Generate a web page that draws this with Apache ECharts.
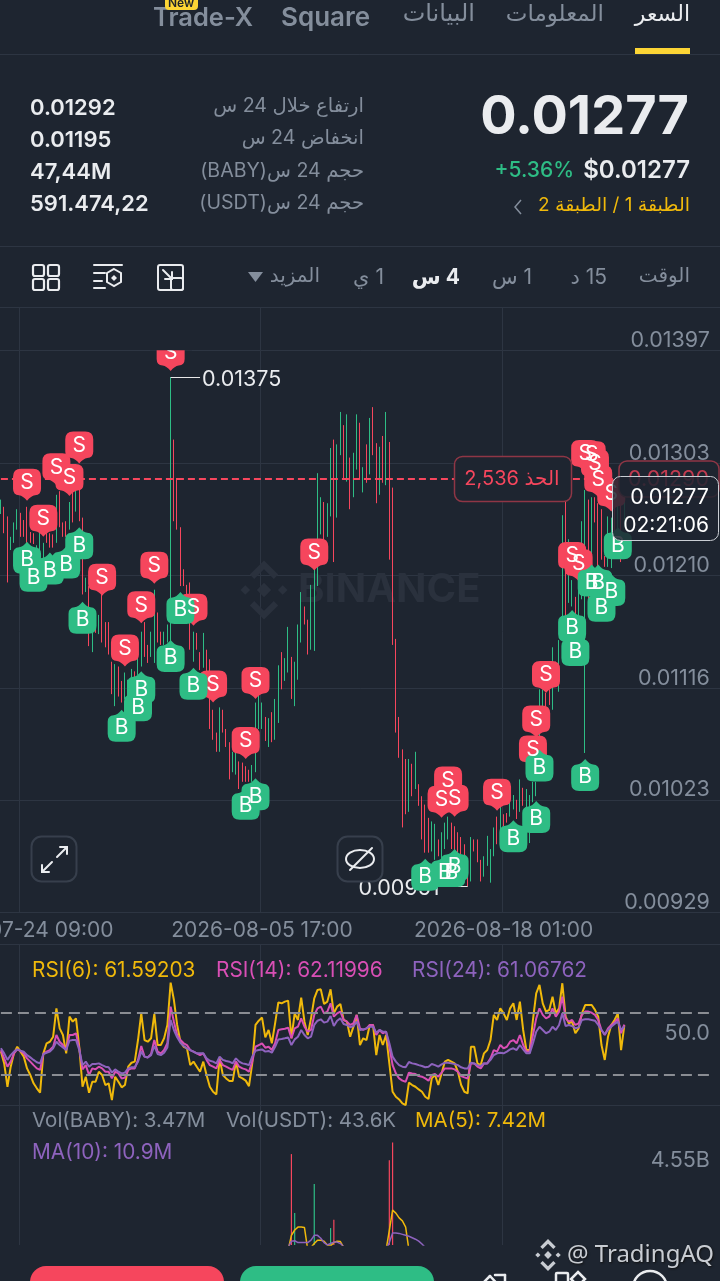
<!DOCTYPE html>
<html><head><meta charset="utf-8">
<style>html,body{margin:0;padding:0;background:#1E2530;}#c{width:720px;height:1281px;}</style>
<script src="https://cdn.jsdelivr.net/npm/echarts@6/dist/echarts.min.js"></script>
</head><body><div id="c"></div>
<script>
// prices in units of 0.00001
const candleOpen=[1264,1263,1252,1233,1240,1251,1258,1253,1260,1244,1243,1226,1235,1227,1250,1243,1241,1242,1275,1252,1252,1252,1270,1266,1282,1255,1198,1195,1155,1171,1164,1180,1168,1165,1132,1110,1130,1118,1110,1110,1125,1127,1130,1138,1165,1150,1145,1142,1172,1160,1154,1156,1306,1310,1270,1245,1212,1200,1195,1143,1160,1144,1136,1145,1130,1094,1077,1066,1095,1080,1068,1048,1047,1052,1050,1048,1046,1040,1050,1086,1085,1090,1072,1092,1078,1095,1140,1125,1135,1136,1108,1130,1160,1181,1170,1152,1155,1210,1248,1266,1245,1265,1310,1262,1315,1330,1292,1302,1280,1303,1330,1282,1312,1298,1340,1312,1282,1318,1295,1310,1270,1154,1088,1060,1040,1020,1048,1036,1034,1022,1012,1004,984,978,987,976,985,993,1002,997,992,988,982,968,960,988,986,972,962,972,960,980,1005,994,1009,1010,1011,1017,1020,1017,1030,1018,995,1024,1028,1050,1095,1110,1112,1104,1120,1118,1160,1260,1190,1188,1190,1178,1195,1200,1265,1205,1272,1262,1258,1225,1222,1220,1262,1240,1275,1262];
const candleClose=[1271,1250,1225,1240,1250,1262,1246,1246,1243,1239,1238,1233,1245,1234,1240,1235,1235,1268,1255,1245,1245,1265,1258,1278,1260,1215,1206,1160,1170,1164,1174,1160,1155,1150,1118,1130,1115,1108,1124,1120,1130,1118,1139,1158,1147,1140,1158,1175,1158,1155,1161,1166,1372,1262,1252,1210,1204,1188,1160,1158,1152,1134,1155,1132,1092,1078,1067,1092,1083,1071,1048,1060,1058,1037,1041,1041,1040,1049,1095,1105,1100,1076,1087,1075,1102,1128,1120,1138,1160,1112,1132,1162,1190,1172,1150,1195,1210,1280,1270,1245,1265,1305,1230,1310,1338,1297,1335,1270,1305,1335,1296,1296,1292,1332,1315,1278,1310,1295,1330,1235,1165,1090,1065,1010,1020,1050,1030,1055,1022,996,985,985,1000,995,980,990,998,1005,987,982,982,977,970,955,985,983,975,960,973,988,978,996,990,1012,1003,1006,1020,1024,1010,1035,1021,1029,1020,1034,1035,1105,1110,1103,1105,1140,1134,1150,1240,1190,1230,1202,1172,1215,1245,1270,1200,1265,1258,1200,1230,1220,1250,1250,1240,1268,1260,1277];
const candleLow=[1261,1245,1204,1231,1237,1248,1242,1242,1237,1237,1236,1223,1231,1223,1237,1233,1233,1237,1250,1242,1242,1248,1254,1263,1255,1194,1196,1151,1146,1162,1161,1154,1150,1144,1111,1101,1109,1104,1107,1107,1123,1115,1127,1134,1142,1137,1142,1137,1154,1152,1152,1154,1148,1255,1248,1201,1201,1181,1148,1138,1148,1131,1133,1127,1082,1073,1063,1063,1079,1067,1040,1046,1044,1032,1038,1038,1038,1038,1046,1082,1082,1072,1067,1071,1073,1087,1115,1122,1129,1107,1101,1123,1154,1169,1144,1148,1147,1201,1244,1240,1242,1259,1221,1258,1310,1290,1288,1265,1275,1298,1290,1279,1287,1294,1310,1270,1277,1287,1285,1223,1152,1079,1058,1000,1011,1013,1026,1032,1018,990,979,979,980,973,976,972,982,990,982,978,979,973,965,951,955,980,971,955,959,968,954,976,986,990,1001,1004,1009,1015,1007,1013,1018,1015,987,1021,1026,1045,1090,1101,1102,1098,1117,1113,1156,1173,1187,1184,1165,1173,1190,1062,1190,1198,1254,1190,1223,1217,1217,1216,1235,1235,1221,1250];
const candleHigh=[1273,1267,1259,1242,1254,1265,1262,1256,1267,1246,1245,1235,1248,1237,1259,1245,1244,1277,1280,1254,1255,1271,1285,1281,1288,1258,1208,1201,1177,1173,1177,1198,1171,1171,1138,1136,1134,1122,1129,1123,1132,1130,1142,1163,1171,1152,1163,1198,1179,1163,1163,1169,1375,1323,1291,1250,1215,1202,1204,1163,1162,1146,1162,1148,1140,1098,1079,1100,1098,1082,1071,1063,1062,1055,1054,1051,1048,1052,1104,1111,1104,1092,1091,1096,1107,1135,1146,1141,1167,1142,1138,1169,1196,1184,1173,1202,1219,1295,1275,1271,1270,1316,1323,1319,1346,1335,1344,1308,1312,1344,1337,1300,1319,1341,1350,1320,1317,1326,1346,1321,1283,1157,1092,1065,1057,1057,1053,1063,1036,1026,1019,1008,1005,1003,990,996,1004,1009,1004,1001,996,992,986,965,992,990,990,973,976,993,982,1000,1009,1017,1011,1012,1023,1027,1023,1040,1033,1032,1027,1038,1038,1115,1115,1112,1115,1150,1138,1156,1260,1273,1240,1206,1192,1223,1255,1281,1273,1275,1275,1270,1265,1226,1259,1258,1273,1277,1282,1285];
const sellIndex=[8,17,21,24,13,31,47,43,59,52,96,38,65,78,75,137,135,139,152,163,164,167,175,177,179,181,182,183,187];
const sellPrice=[1272,1285,1276,1303,1242,1193,1203,1170,1168,1380,1214,1134,1104,1107,1057,1024,1008,1009,1014,1050,1075,1112,1211,1205,1296,1295,1288,1275,1263];
const buyIndex=[8,10,15,20,24,25,55,52,43,42,37,59,78,75,130,136,139,138,157,164,165,179,176,175,184,181,183,187,189];
const buyPrice=[1238,1223,1229,1234,1250,1188,1196,1156,1130,1115,1098,1133,1041,1033,974,977,982,977,1006,1022,1065,1057,1161,1181,1198,1219,1219,1211,1250];
const rsi6=[44.9,37.4,22.5,35.3,43.8,48.0,44.9,41.7,34.2,30.0,24.7,21.5,18.7,43.8,50.2,51.2,54.4,72.5,59.7,55.5,43.8,67.2,64.0,66.1,48.0,22.5,28.9,18.7,25.7,25.7,32.1,30.0,23.6,24.7,14.0,28.9,25.7,22.1,23.6,35.3,37.8,38.5,52.3,69.3,52.3,51.2,53.4,68.9,49.1,49.1,53.4,61.9,88.9,77.8,61.9,51.2,48.0,47.0,36.3,38.5,35.3,32.1,38.5,30.0,22.5,19.3,17.6,40.6,30.0,27.8,26.1,26.1,38.5,28.9,27.8,26.4,22.9,37.4,61.9,64.6,66.6,54.0,58.7,50.2,62.9,76.3,75.7,76.8,77.4,53.4,69.3,65.1,79.3,64.0,55.5,66.1,78.9,84.2,84.6,75.3,76.8,84.6,69.3,73.6,75.3,65.1,64.0,54.4,60.8,68.3,49.1,
53.4,52.3,61.9,61.9,42.7,55.5,49.1,55.5,37.4,19.3,16.1,14.4,11.9,10.8,25.1,23.6,22.5,20.8,19.3,16.1,14.7,27.8,30.0,23.6,31.0,38.5,39.6,38.5,37.4,32.1,23.6,19.3,18.3,48.0,48.0,37.4,36.3,43.8,45.9,52.3,68.3,65.1,72.5,69.3,65.1,72.5,75.7,65.1,76.8,58.7,45.9,45.9,65.1,82.1,87.4,75.7,70.4,71.5,79.9,69.3,72.5,88.5,67.2,62.9,64.0,56.6,59.7,69.3,74.6,74.6,74.6,71.5,67.2,49.1,39.6,54.4,61.9,65.1,69.3,45.9,61.59];
const rsi14=[45.9,40.6,35.3,38.5,43.8,46.3,45.3,43.8,40.6,38.5,36.3,34.2,33.2,43.4,44.9,45.9,48.0,55.5,51.2,49.1,45.9,55.5,55.5,56.6,47.0,33.6,36.3,30.0,34.2,33.6,35.3,34.2,32.1,32.1,27.8,32.1,31.0,27.8,28.3,33.2,34.2,34.2,39.6,48.5,41.7,41.2,43.4,52.3,44.9,43.8,45.9,50.2,73.6,64.0,55.5,52.3,50.2,49.1,45.9,44.9,43.8,42.7,43.8,39.6,36.3,35.3,34.2,39.6,36.3,35.3,34.2,33.2,38.5,35.3,34.2,33.6,32.1,38.5,48.0,49.1,50.2,47.4,48.0,45.9,50.2,58.7,59.1,59.5,60.2,53.4,59.7,60.8,66.1,60.8,57.6,58.7,68.3,72.5,73.6,69.3,70.4,75.7,67.2,69.3,70.4,65.1,64.0,61.9,62.9,68.3,59.7,
58.7,59.7,61.9,61.9,55.5,58.7,56.6,57.6,48.0,36.3,31.0,27.8,26.4,25.7,31.5,31.0,30.6,29.3,28.9,27.8,26.4,30.0,30.6,28.9,31.5,34.2,34.2,34.2,33.6,32.1,29.3,28.5,27.8,37.4,37.4,35.3,34.2,37.4,37.4,40.6,45.9,44.9,49.1,47.0,48.0,51.2,52.3,50.2,55.5,49.1,44.9,44.9,55.5,66.1,72.5,68.3,66.1,67.2,72.5,67.2,70.4,79.9,66.1,64.0,65.1,61.9,62.9,68.3,70.4,70.4,69.7,68.3,65.1,58.7,55.5,59.7,61.9,63.4,66.1,56.6,62.12];
const rsi24=[47.0,43.8,39.6,42.7,44.9,46.3,45.5,44.9,42.7,41.2,39.6,38.1,37.4,43.4,44.2,44.9,47.0,51.2,49.1,47.6,45.9,51.9,52.3,52.3,45.9,36.3,38.5,35.3,37.0,37.0,37.4,36.3,35.3,34.9,31.5,33.6,32.1,31.0,31.5,34.2,34.9,34.9,38.5,44.9,41.7,41.2,42.7,48.5,43.4,42.7,44.2,47.6,65.1,58.7,54.0,50.6,48.5,47.0,45.9,44.9,43.8,43.8,43.8,40.6,39.1,38.5,37.4,41.7,39.6,38.9,38.5,37.4,40.6,38.5,37.4,37.0,36.3,41.7,45.5,45.9,46.3,44.9,45.3,44.2,48.0,52.7,52.9,53.4,54.0,49.1,52.7,54.4,58.7,55.5,53.4,54.4,61.9,64.6,65.5,63.4,64.0,67.6,61.2,64.6,66.1,62.5,61.9,60.4,61.2,64.0,58.7,
59.1,59.7,60.8,60.8,57.0,58.7,57.6,57.6,50.2,41.7,38.5,36.3,35.3,34.9,38.3,37.4,37.0,36.3,35.7,34.9,35.3,37.0,36.3,35.3,36.8,37.8,37.8,37.4,37.0,36.3,34.9,34.2,34.2,37.8,37.4,36.3,35.7,37.4,37.4,39.6,42.7,43.8,44.2,43.8,44.9,46.3,47.0,45.9,49.1,46.3,43.8,43.8,50.2,57.6,60.8,58.7,56.6,57.6,60.8,58.7,61.9,69.3,61.2,61.9,61.2,59.7,60.4,65.1,65.5,65.5,65.1,64.6,61.9,58.7,55.9,58.7,60.8,62.5,64.0,58.7,61.07];
const volIndex=[89,90,96,101,102,119,120];
const volValues=[4.88e9,3.66e9,4.26e9,3.35e9,3.52e9,4.75e9,5.12e9];
const volIsUp=[false,true,true,true,false,false,false];
const ma5Index=[88,89,90,91,92,93,94,95,96,97,98,99,100,101,102,103,104,105,117,118,119,120,121,122,123,124,125];
const ma5Values=[2.9e9,3.2e9,3.31e9,3.37e9,3.37e9,3.36e9,2.9e9,2.95e9,3.03e9,3.1e9,3.1e9,3.08e9,3.0e9,2.98e9,3.05e9,3.08e9,3.07e9,2.95e9,2.7e9,2.9e9,3.3e9,3.72e9,3.66e9,3.56e9,3.5e9,3.37e9,2.9e9];
const ma10Index=[88,89,90,91,92,93,94,95,96,97,98,99,100,101,102,103,104,105,118,119,120,121,122,123,124,125,126,127,128,129,130];
const ma10Values=[2.95e9,3.08e9,3.09e9,3.05e9,3.05e9,3.05e9,3.05e9,3.1e9,3.2e9,3.2e9,3.14e9,3.05e9,3.0e9,3.03e9,3.06e9,3.06e9,3.03e9,2.97e9,2.9e9,3.05e9,3.25e9,3.25e9,3.24e9,3.22e9,3.2e9,3.18e9,3.15e9,3.12e9,3.08e9,3.02e9,2.95e9];
const priceTicks=[0.01397,0.01303,0.0121,0.01116,0.01023,0.00929];
const rsiTicks=[50];
const volTicks=[4.55e9];
const timeStart=Date.UTC(2026,6,23,9);
const slotCount=222;
const highPrice=0.01375, lowPrice=0.00951, alertPrice=0.0129;

const pad=n=>String(n).padStart(2,'0');
const categories=Array.from({length:slotCount},(_,i)=>{const d=new Date(timeStart+i*4*3600e3);
  return d.getUTCFullYear()+'-'+pad(d.getUTCMonth()+1)+'-'+pad(d.getUTCDate())+' '+pad(d.getUTCHours())+':00';});
const FONT="Inter, 'Noto Sans', 'DejaVu Sans', sans-serif";
const UP='#2EBD85',DOWN='#F6465D',BG='#1E2530',GRID='#2D3542',GRAY='#848E9C',YEL='#F0B90B',PINK='#D94FB5',PUR='#8E63BE',WHITE='#EAECEF';
const showGrid=i=>i%74===6;
const X=(g,extra)=>Object.assign({type:'category',gridIndex:g,data:categories,boundaryGap:true,
  axisTick:{show:false,alignWithLabel:true,interval:showGrid},axisLabel:{show:false},axisLine:{show:false},
  splitLine:{show:true,interval:showGrid,lineStyle:{color:GRID,width:1}}},extra||{});
const Y=(g,min,max,ticks,fmt)=>({type:'value',gridIndex:g,position:'right',min,max,scale:true,
  axisLine:{show:false},axisTick:{show:false,customValues:ticks},
  axisLabel:{show:ticks.length>0,inside:true,margin:14,customValues:ticks,formatter:fmt,color:GRAY,fontSize:21.5,fontFamily:FONT,verticalAlign:'bottom',align:'right',lineHeight:20,showMinLabel:true,showMaxLabel:true},
  splitLine:{show:g===0,lineStyle:{color:GRID,width:1}}});
const SPATH='path://M8,0 L20,0 Q28,0 28,8 L28,20 Q28,26 22,26.5 Q18,27 14,32 Q10,27 6,26.5 Q0,26 0,20 L0,8 Q0,0 8,0 Z';
const BPATH='path://M14,0 Q18,5 22,5.5 Q28,6 28,12 L28,24 Q28,32 20,32 L8,32 Q0,32 0,24 L0,12 Q0,6 6,5.5 Q10,5 14,0 Z';
const marker=(name,idx,vals,path,color,off,loff)=>({type:'scatter',name,xAxisIndex:0,yAxisIndex:0,z:5,
  data:idx.map((x,k)=>[x,vals[k]/1e5]),symbol:path,symbolSize:[28,32],symbolOffset:[0,off],silent:true,
  itemStyle:{color,opacity:1},label:{show:true,position:'inside',formatter:name,color:'#fff',fontSize:21,fontFamily:FONT,offset:[0,loff]}});
const pair=(idx,vals)=>idx.map((x,k)=>[x,vals[k]]);

const txt=(text,x,y,size,fill,align,weight,z)=>({type:'text',z:z||100,silent:true,style:{text,x,y,fontSize:size,fontFamily:FONT,fontWeight:weight||400,fill,textAlign:align||'left',textVerticalAlign:'middle'}});
const rect=(x,y,w,h,r,fill,stroke,lw,z)=>({type:'rect',z:z||100,silent:true,shape:{x,y,width:w,height:h,r},style:{fill:fill||'none',stroke:stroke||'none',lineWidth:lw||0}});
const line=(x1,y1,x2,y2,c,w,z)=>({type:'line',z:z||100,silent:true,shape:{x1,y1,x2,y2},style:{stroke:c,lineWidth:w||1,lineCap:'round'}});
const dia=(cx,cy,r,c,z)=>({type:'polygon',z:z||100,silent:true,shape:{points:[[cx,cy-r],[cx+r,cy],[cx,cy+r],[cx-r,cy]]},style:{fill:c}});
const chevron=(cx,cy,r,dir,c,w,z)=>({type:'polyline',z:z||100,silent:true,shape:{points:[[cx-r,cy+dir*0],[cx,cy-dir*r],[cx+r,cy]]},style:{stroke:c,lineWidth:w,fill:'none'}});
const logo=(cx,cy,s,c,z)=>[dia(cx,cy,s*.3,c,z),dia(cx-s*.78,cy,s*.2,c,z),dia(cx+s*.78,cy,s*.2,c,z),
  chevron(cx,cy-s*.55,s*.5,1,c,s*.26,z),chevron(cx,cy+s*.55,s*.5,-1,c,s*.26,z)];
const RL=s=>'\u202B'+s+'\u202C';

const graphics=[
 // tabs
 txt('Trade-X',153,18,25.5,GRAY,'left',600),txt('Square',281,18,26,GRAY,'left',600),
 txt(RL('البيانات'),475,14,24,GRAY,'right'),txt(RL('المعلومات'),604,14,23,GRAY,'right'),txt(RL('السعر'),690,14,22,WHITE,'right'),
 rect(165,-6,33,16,4,'#FCD535'),txt('New',181,3,12,'#1E2329','center',600),
 rect(635,48,55,6,0,'#FCD535'),
 line(0,54.5,720,54.5,GRID),line(0,246.5,720,246.5,GRID),line(0,307.5,720,307.5,GRID),
 // stats
 txt('0.01292',30,108,22,WHITE,'left',600),txt('0.01195',30,140,22,WHITE,'left',600),txt('47,44M',30,172,22,WHITE,'left',600),txt('591.474,22',30,204,22,WHITE,'left',600),
 txt(RL('ارتفاع خلال 24 س'),364,106,19.6,GRAY,'right'),txt(RL('انخفاض 24 س'),364,138,19.6,GRAY,'right'),
 txt(RL('حجم 24 س(BABY)'),364,171,19.6,GRAY,'right'),txt(RL('حجم 24 س(USDT)'),364,203,19.6,GRAY,'right'),
 txt('0.01277',689,118,54,WHITE,'right',700),
 txt('$0.01277',690,171,24,WHITE,'right',600),txt('+5.36%',574,171,21,UP,'right',500),
 txt(RL('الطبقة 1 / الطبقة 2'),690,205,19,YEL,'right'),
 {type:'polyline',z:100,silent:true,shape:{points:[[521,200],[515,207],[521,214]]},style:{stroke:GRAY,lineWidth:1.5,fill:'none'}},
 // interval row
 txt(RL('الوقت'),690,276,20,GRAY,'right'),txt(RL('15 د'),607,278,21,GRAY,'right'),txt(RL('1 س'),532,278,21,GRAY,'right'),
 txt(RL('4 س'),460,278,21,WHITE,'right',700),txt(RL('1 ي'),384,278,21,GRAY,'right'),txt(RL('المزيد'),320,276,20,GRAY,'right'),
 {type:'polygon',z:100,silent:true,shape:{points:[[248,272],[263,272],[255.5,282]]},style:{fill:GRAY}},
 rect(33,265,11,11,2,null,WHITE,2.2),rect(48,265,11,11,2,null,WHITE,2.2),rect(33,279,11,11,2,null,WHITE,2.2),rect(48,279,11,11,2,null,WHITE,2.2),
 line(94,265,122,265,WHITE,2),line(94,273,105,273,WHITE,2),line(94,281,102,281,WHITE,2),line(94,288,105,288,WHITE,2),
 {type:'polygon',z:100,silent:true,shape:{points:[[114,269],[121,273],[121,282],[114,286],[107,282],[107,273]]},style:{stroke:WHITE,lineWidth:2,fill:'none'}},
 dia(114,278,3,WHITE),
 rect(158,265,25,25,2,null,WHITE,2),rect(171,278,12,12,2,BG,WHITE,2),line(163,270,172,279,WHITE,2),line(172,272,172,279,WHITE,2),line(165,279,172,279,WHITE,2),
 // watermark
 ...logo(264,590,24,'#2A313D',1),
 txt('BINANCE',298,590,40,'#2A313D','left',700,1),
 // top edge of the plot cuts off the highest marker
 rect(150,309,42,41.2,0,BG,null,0,50),
 // boxes
 rect(454.5,456.5,117,45,8,BG,'#8F3645',1.5),txt(RL('الحذ 2,536'),512,479,20,DOWN,'center'),
 rect(619,461,100,36,8,BG,'#8F3645',1.5,101),txt('0.01290',709,480,21.5,'#C23B50','right',400,102),
 rect(612.5,476.5,106,64,8,'rgba(30,37,48,0.85)','#C9CDD3',1,103),txt('0.01277',709,498,21.5,'#FFFFFF','right',400,104),txt('02:21:06',709,526,21,'#FFFFFF','right',400,104),
 // buttons
 rect(31.5,836.5,45,45,10,BG,'#373F4C',2),line(42,872,52,862,WHITE,2),line(42,872,42,865,WHITE,2),line(42,872,49,872,WHITE,2),line(57,857,67,847,WHITE,2),line(67,847,60,847,WHITE,2),line(67,847,67,854,WHITE,2),
 rect(337.5,836.5,45,45,10,BG,'#373F4C',2),{type:'ellipse',z:100,silent:true,shape:{cx:360,cy:859,rx:14,ry:9},style:{stroke:WHITE,lineWidth:2,fill:'none'}},line(350,870,372,848,WHITE,2),
 // separators
 line(0,944.5,720,944.5,GRID,1),
 // legends
 txt('RSI(6): 61.59203',32,971,20.8,YEL),txt('RSI(14): 62.11996',216,971,20.8,PINK),txt('RSI(24): 61.06762',412,971,20.8,PUR),
 txt('Vol(BABY): 3.47M',32,1121,20.5,GRAY),txt('Vol(USDT): 43.6K',226,1121,20.5,GRAY),txt('MA(5): 7.42M',415,1121,20.5,YEL),txt('MA(10): 10.9M',32,1153,20.8,PUR),
 // footer
 rect(30,1266,194,40,16,DOWN),rect(240,1266,194,40,16,UP),
 line(476,1290,490,1276,WHITE,2.5),line(490,1276,503,1290,WHITE,2.5),line(495,1275,505,1275,WHITE,2.5),line(505,1275,505,1285,WHITE,2.5),
 rect(556,1273,12,12,1,null,WHITE,2.5),dia(578,1279,7,BG),{type:'polygon',z:100,silent:true,shape:{points:[[578,1272],[585,1279],[578,1286],[571,1279]]},style:{stroke:WHITE,lineWidth:2.5,fill:'none'}},
 {type:'circle',z:100,silent:true,shape:{cx:650,cy:1288,r:17},style:{stroke:WHITE,lineWidth:2.5,fill:'none'}},
 ...logo(548,1255,13,'#C8CCD2',110),
 {type:'text',z:110,silent:true,style:{text:'@ TradingAQ',x:567,y:1255,fontSize:24,fontFamily:"'Noto Sans',sans-serif",fill:'#C8CCD2',textVerticalAlign:'middle',textShadowColor:'#111',textShadowBlur:2,textShadowOffsetX:1,textShadowOffsetY:1}}
];

const chart=echarts.init(document.getElementById('c'),null,{renderer:'canvas',width:720,height:1281});
const W=slotCount*3.264,L=-0.716;
const leaderLabel=(v)=>({show:true,position:'end',distance:2,offset:[0,2],formatter:v,color:WHITE,fontSize:21.5,fontFamily:FONT});
const gridBase={left:L,width:W,outerBoundsMode:'none',containLabel:false};
chart.setOption({
 animation:false,backgroundColor:BG,tooltip:{show:false},
 grid:[
  Object.assign({top:350.7,height:562},gridBase),
  Object.assign({top:944.5,height:160.5},gridBase),
  Object.assign({top:1105,height:140},gridBase),
  Object.assign({top:308,height:42.7},gridBase)
 ],
 xAxis:[
  X(0,{axisLine:{show:true,lineStyle:{color:GRID}},axisLabel:{show:true,interval:showGrid,margin:7,color:GRAY,fontSize:21,fontFamily:FONT,hideOverlap:false}}),
  X(1,{axisLine:{show:true,lineStyle:{color:GRID}}}),
  X(2),X(3)
 ],
 yAxis:[
  Y(0,0.00929,0.01397,priceTicks,v=>v.toFixed(5)),
  Y(1,10.86,113.2,rsiTicks,v=>v.toFixed(1)),
  Y(2,3e9,5.895e9,volTicks,v=>(v/1e9).toFixed(2)+'B'),
  Y(3,0,1,[],v=>'')
 ],
 graphic:{elements:graphics},
 series:[
  {type:'candlestick',name:'price',xAxisIndex:0,yAxisIndex:0,barWidth:1.2,z:3,
   data:candleOpen.map((o,i)=>[o/1e5,candleClose[i]/1e5,candleLow[i]/1e5,candleHigh[i]/1e5]),
   itemStyle:{color:UP,color0:DOWN,borderColor:UP,borderColor0:DOWN,borderWidth:1},
   markLine:{silent:true,symbol:'none',animation:false,precision:5,
    data:[
     [{coord:[0,alertPrice],lineStyle:{color:DOWN,type:[7,4],width:2},label:{show:false}},{coord:[191,alertPrice]}],
     [{coord:[52,highPrice],lineStyle:{color:'#E8E8E8',type:'solid',width:1},label:leaderLabel('0.01375')},{coord:[61,highPrice]}],
     [{coord:[143,lowPrice],lineStyle:{color:'#E8E8E8',type:'solid',width:1},label:leaderLabel('0.00951')},{coord:[135,lowPrice]}]
    ]}},
  marker('S',sellIndex,sellPrice,SPATH,DOWN,-16,-2),
  marker('B',buyIndex,buyPrice,BPATH,UP,16,2),
  {type:'line',name:'RSI6',xAxisIndex:1,yAxisIndex:1,data:rsi6,symbol:'none',lineStyle:{color:YEL,width:2},z:3,
   markLine:{silent:true,symbol:'none',lineStyle:{color:'#8A8D93',type:[11,6],width:2},label:{show:false},
    data:[[{coord:[0,70]},{coord:[218,70]}],[{coord:[0,30]},{coord:[218,30]}]]}},
  {type:'line',name:'RSI14',xAxisIndex:1,yAxisIndex:1,data:rsi14,symbol:'none',lineStyle:{color:PINK,width:2},z:4},
  {type:'line',name:'RSI24',xAxisIndex:1,yAxisIndex:1,data:rsi24,symbol:'none',lineStyle:{color:PUR,width:2},z:5},
  {type:'bar',name:'Vol',xAxisIndex:2,yAxisIndex:2,barWidth:1.2,
   data:volIndex.map((x,k)=>({value:[x,volValues[k]],itemStyle:{color:volIsUp[k]?UP:DOWN}}))},
  {type:'line',name:'MA5',xAxisIndex:2,yAxisIndex:2,data:pair(ma5Index,ma5Values),symbol:'none',lineStyle:{color:YEL,width:1.5}},
  {type:'line',name:'MA10',xAxisIndex:2,yAxisIndex:2,data:pair(ma10Index,ma10Values),symbol:'none',lineStyle:{color:PUR,width:1.5}}
 ]
});
</script></body></html>
